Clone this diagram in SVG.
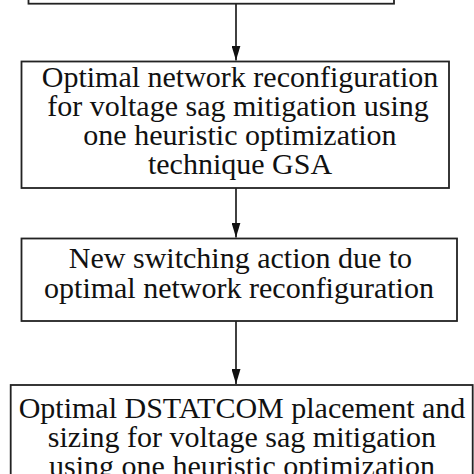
<svg xmlns="http://www.w3.org/2000/svg" width="474" height="474" viewBox="0 0 474 474">
<defs>
<style>
.box{fill:#fff;stroke:#222;stroke-width:1.8}
.t{font-family:"Liberation Serif","Times New Roman",serif;font-size:30px;fill:#111;text-anchor:middle}
.c{stroke:#111;stroke-width:1.6;fill:none}
</style>
<marker id="av" viewBox="0 0 9 15" refX="4.5" refY="15" markerWidth="9" markerHeight="15" markerUnits="userSpaceOnUse" orient="0">
<path d="M0,0 L9,0 L4.5,15 Z" fill="#111"/>
</marker>
</defs>
<rect width="474" height="474" fill="#fff"/>
<g id="connectors">
<line class="c" x1="236" y1="4" x2="236" y2="60.5" marker-end="url(#av)"/>
<line class="c" x1="236" y1="188" x2="236" y2="237.5" marker-end="url(#av)"/>
<line class="c" x1="236" y1="321" x2="236" y2="384" marker-end="url(#av)"/>
</g>
<g id="node1">
<rect class="box" x="28.5" y="-20" width="365.5" height="23.7"/>
</g>
<g id="node2">
<rect class="box" x="21.5" y="61.5" width="427.5" height="126.5"/>
<text class="t" x="240" y="86.7">Optimal network reconfiguration</text>
<text class="t" x="238" y="116">for voltage sag mitigation using</text>
<text class="t" x="240" y="145">one heuristic optimization</text>
<text class="t" x="240" y="173.5">technique GSA</text>
</g>
<g id="node3">
<rect class="box" x="21.5" y="238.5" width="435.5" height="82.5"/>
<text class="t" x="240.5" y="268">New switching action due to</text>
<text class="t" x="239" y="297.7">optimal network reconfiguration</text>
</g>
<g id="node4">
<rect class="box" x="10.7" y="385" width="462" height="120"/>
<text class="t" x="242" y="418.3">Optimal DSTATCOM placement and</text>
<text class="t" x="242" y="446.7">sizing for voltage sag mitigation</text>
<text class="t" x="242" y="475.5">using one heuristic optimization</text>
</g>
</svg>
